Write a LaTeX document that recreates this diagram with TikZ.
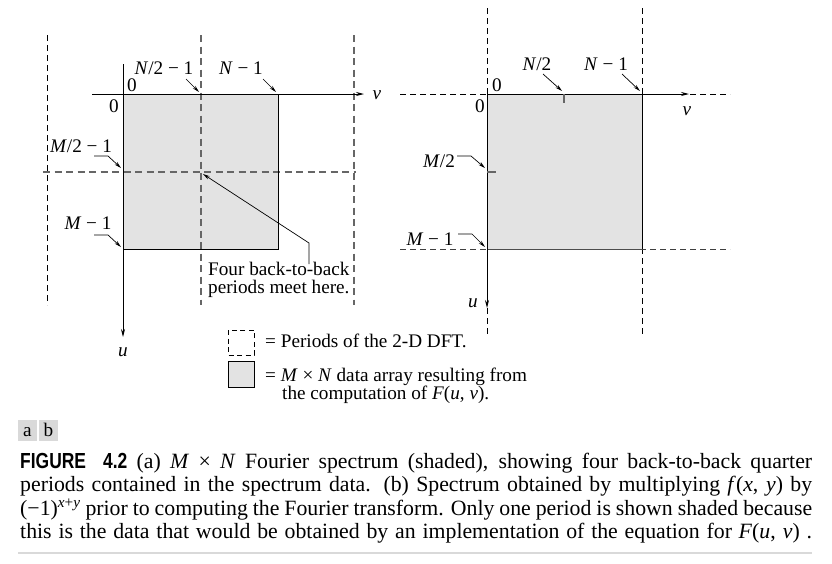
\documentclass[tikz,border=0pt]{standalone}
\usepackage{fontspec}
\setmainfont{Liberation Serif}
\newfontfamily\figfont[FakeStretch=0.8]{Liberation Sans}
\usetikzlibrary{arrows.meta}
\newcommand\itl[1]{\textit{#1}}
\begin{document}
\begin{tikzpicture}[x=1pt,y=-1pt,
  lblfont/.style={font=\fontsize{19.2}{21}\selectfont},
  lbl/.style={inner sep=0pt, anchor=base, lblfont},
  lblw/.style={inner sep=0pt, anchor=base west, lblfont},
  shadebox/.style={fill=black!11},
  axisline/.style={line width=0.9pt, black},
  axisarrow/.style={axisline, -{Stealth[length=8pt,width=4pt]}},
  ptr/.style={line width=0.7pt, -{Stealth[length=7pt,width=3.6pt]}},
  thindash/.style={line width=0.8pt, black, dash pattern=on 6pt off 4pt},
  graydash/.style={line width=1.4pt, black!60, dash pattern=on 7pt off 4.5pt},
  tickmark/.style={line width=1.3pt, black!60},
  capline/.style={inner sep=0pt, anchor=base west, font=\fontsize{21.8}{23.5}\selectfont}
]
\useasboundingbox (0,0) rectangle (832,563);

% ================= panel (a) =================
\fill[shadebox] (123,94) rectangle (278,249);
\coordinate (a1t) at (47,35);  \coordinate (a1b) at (47,305);
\coordinate (a2t) at (201,35); \coordinate (a2b) at (201,305);
\coordinate (a3t) at (354,35); \coordinate (a3b) at (354,305);
\coordinate (ahl) at (43,172); \coordinate (ahr) at (356,172);
\draw[thindash] (a1t) -- (a1b);
\draw[graydash] (a2t) -- (a2b);
\draw[graydash] (a3t) -- (a3b);
\draw[graydash] (ahl) -- (ahr);
\coordinate (aNE) at (278,94); \coordinate (aSE) at (278,249); \coordinate (aSW) at (123,249);
\draw[axisline] (aNE) -- (aSE) -- (aSW);
\coordinate (auT) at (123,64); \coordinate (auB) at (123,337);
\coordinate (avL) at (92,94);  \coordinate (avR) at (364,94);
\draw[axisarrow] (auT) -- (auB);
\draw[axisarrow] (avL) -- (avR);

\node[lbl] (aN2) at (164,74) {\itl{N}/2 − 1};
\node[lbl] (aN1) at (241,74) {\itl{N} − 1};
\node[lbl] (a0t) at (132,91) {0};
\node[lbl] (a0l) at (114,112) {0};
\node[lbl] (aM2) at (81,152) {\itl{M}/2 − 1};
\node[lbl] (aM1) at (88,229) {\itl{M} − 1};
\node[lbl] (av) at (377,99) {\itl{v}};
\node[lbl] (au) at (123,356) {\itl{u}};
\node[lblw] (four1) at (208,275) {Four back-to-back};
\node[lblw] (four2) at (208,293) {periods meet here.};

\coordinate (pN2s) at (186,79); \coordinate (pN2e) at (199,92);
\coordinate (pN1s) at (263,79); \coordinate (pN1e) at (276,92);
\draw[ptr] (pN2s) -- (pN2e);
\draw[ptr] (pN1s) -- (pN1e);
\coordinate (pM2s) at (94,156); \coordinate (pM2m) at (108,156); \coordinate (pM2e) at (121,168);
\coordinate (pM1s) at (94,235); \coordinate (pM1m) at (108,235); \coordinate (pM1e) at (121,247);
\draw[ptr] (pM2s) -- (pM2m) -- (pM2e);
\draw[ptr] (pM1s) -- (pM1m) -- (pM1e);
\coordinate (pBs) at (309,264); \coordinate (pBm) at (309,243); \coordinate (pBe) at (203,174);
\draw[ptr] (pBs) -- (pBm) -- (pBe);

% ================= legend =================
\draw[line width=0.8pt, dash pattern=on 5pt off 3.5pt] (228,330) rectangle (254,355);
\node[lblw] (leg1) at (265,347) {= Periods of the 2-D DFT.};
\draw[line width=0.8pt, shadebox] (228,361) rectangle (254,387);
\node[lblw] (leg2) at (265,381) {= \itl{M} × \itl{N} data array resulting from};
\node[lblw] (leg3) at (282,399) {the computation of \itl{F}(\itl{u}, \itl{v}).};

% ================= panel (b) =================
\fill[shadebox] (487,94) rectangle (642,249);
\coordinate (b1t) at (487,8);   \coordinate (b1b) at (487,337);
\coordinate (b2t) at (642,8);   \coordinate (b2b) at (642,337);
\coordinate (bh1l) at (400,94); \coordinate (bh1r) at (730,94);
\coordinate (bh2l) at (400,249); \coordinate (bh2r) at (730,249);
\draw[thindash] (b1t) -- (b1b);
\draw[thindash] (b2t) -- (b2b);
\draw[thindash] (bh1l) -- (bh1r);
\draw[thindash, black!75] (bh2l) -- (bh2r);
\coordinate (bNE) at (642,94); \coordinate (bSE) at (642,249); \coordinate (bSW) at (487,249);
\draw[axisline] (bNE) -- (bSE);
\draw[line width=0.9pt, black!70] (bSE) -- (bSW);
\coordinate (bO) at (487,94);
\coordinate (buB) at (487,308); \coordinate (bvR) at (689,94);
\draw[axisarrow] (bO) -- (buB);
\draw[axisarrow] (bO) -- (bvR);
\coordinate (tNa) at (564,94); \coordinate (tNb) at (564,103);
\coordinate (tMa) at (487,172); \coordinate (tMb) at (496,172);
\draw[tickmark] (tNa) -- (tNb);
\draw[tickmark] (tMa) -- (tMb);

\node[lbl] (b0t) at (497,91) {0};
\node[lbl] (b0l) at (480,112) {0};
\node[lbl] (bN2) at (537,70) {\itl{N}/2};
\node[lbl] (bN1) at (606,70) {\itl{N} − 1};
\node[lbl] (bM2) at (439,167) {\itl{M}/2};
\node[lbl] (bM1) at (430,245) {\itl{M} − 1};
\node[lbl] (bv) at (687,115) {\itl{v}};
\node[lbl] (bu) at (473,307) {\itl{u}};

\coordinate (qN2s) at (543,74); \coordinate (qN2e) at (562,91);
\coordinate (qN1s) at (622,74); \coordinate (qN1e) at (640,91);
\draw[ptr] (qN2s) -- (qN2e);
\draw[ptr] (qN1s) -- (qN1e);
\coordinate (qM2s) at (457,156); \coordinate (qM2m) at (471,156); \coordinate (qM2e) at (485,168);
\coordinate (qM1s) at (458,234); \coordinate (qM1m) at (472,234); \coordinate (qM1e) at (485,247);
\draw[ptr] (qM2s) -- (qM2m) -- (qM2e);
\draw[ptr] (qM1s) -- (qM1m) -- (qM1e);

% ================= caption =================
\fill[black!15] (18,420) rectangle (37,441);
\fill[black!15] (39,420) rectangle (58,441);
\node[lbl] (capa) at (27.5,436) {a};
\node[lbl] (capb) at (48.5,436) {b};

\node[capline] (c1) at (20,468) {\makebox[792pt][s]{{\figfont\bfseries FIGURE\hspace{0.4em} 4.2} (a) \itl{M} × \itl{N} Fourier spectrum (shaded), showing four back-to-back quarter}};
\node[capline] (c2) at (20,491.5) {\makebox[792pt][s]{periods contained in the spectrum data. (b) Spectrum obtained by multiplying \itl{f}(\itl{x}, \itl{y}) by}};
\node[capline] (c3) at (20,515) {\makebox[792pt][s]{(−1)\textsuperscript{\itl{x}+\itl{y}} prior to computing the Fourier transform. Only one period is shown shaded because}};
\node[capline] (c4) at (20,538.5) {\makebox[792pt][s]{this is the data that would be obtained by an implementation of the equation for \itl{F}(\itl{u}, \itl{v}) .}};
\coordinate (ruleL) at (18,553); \coordinate (ruleR) at (812,553);
\draw[line width=2pt, black!15] (ruleL) -- (ruleR);
\end{tikzpicture}
\end{document}
